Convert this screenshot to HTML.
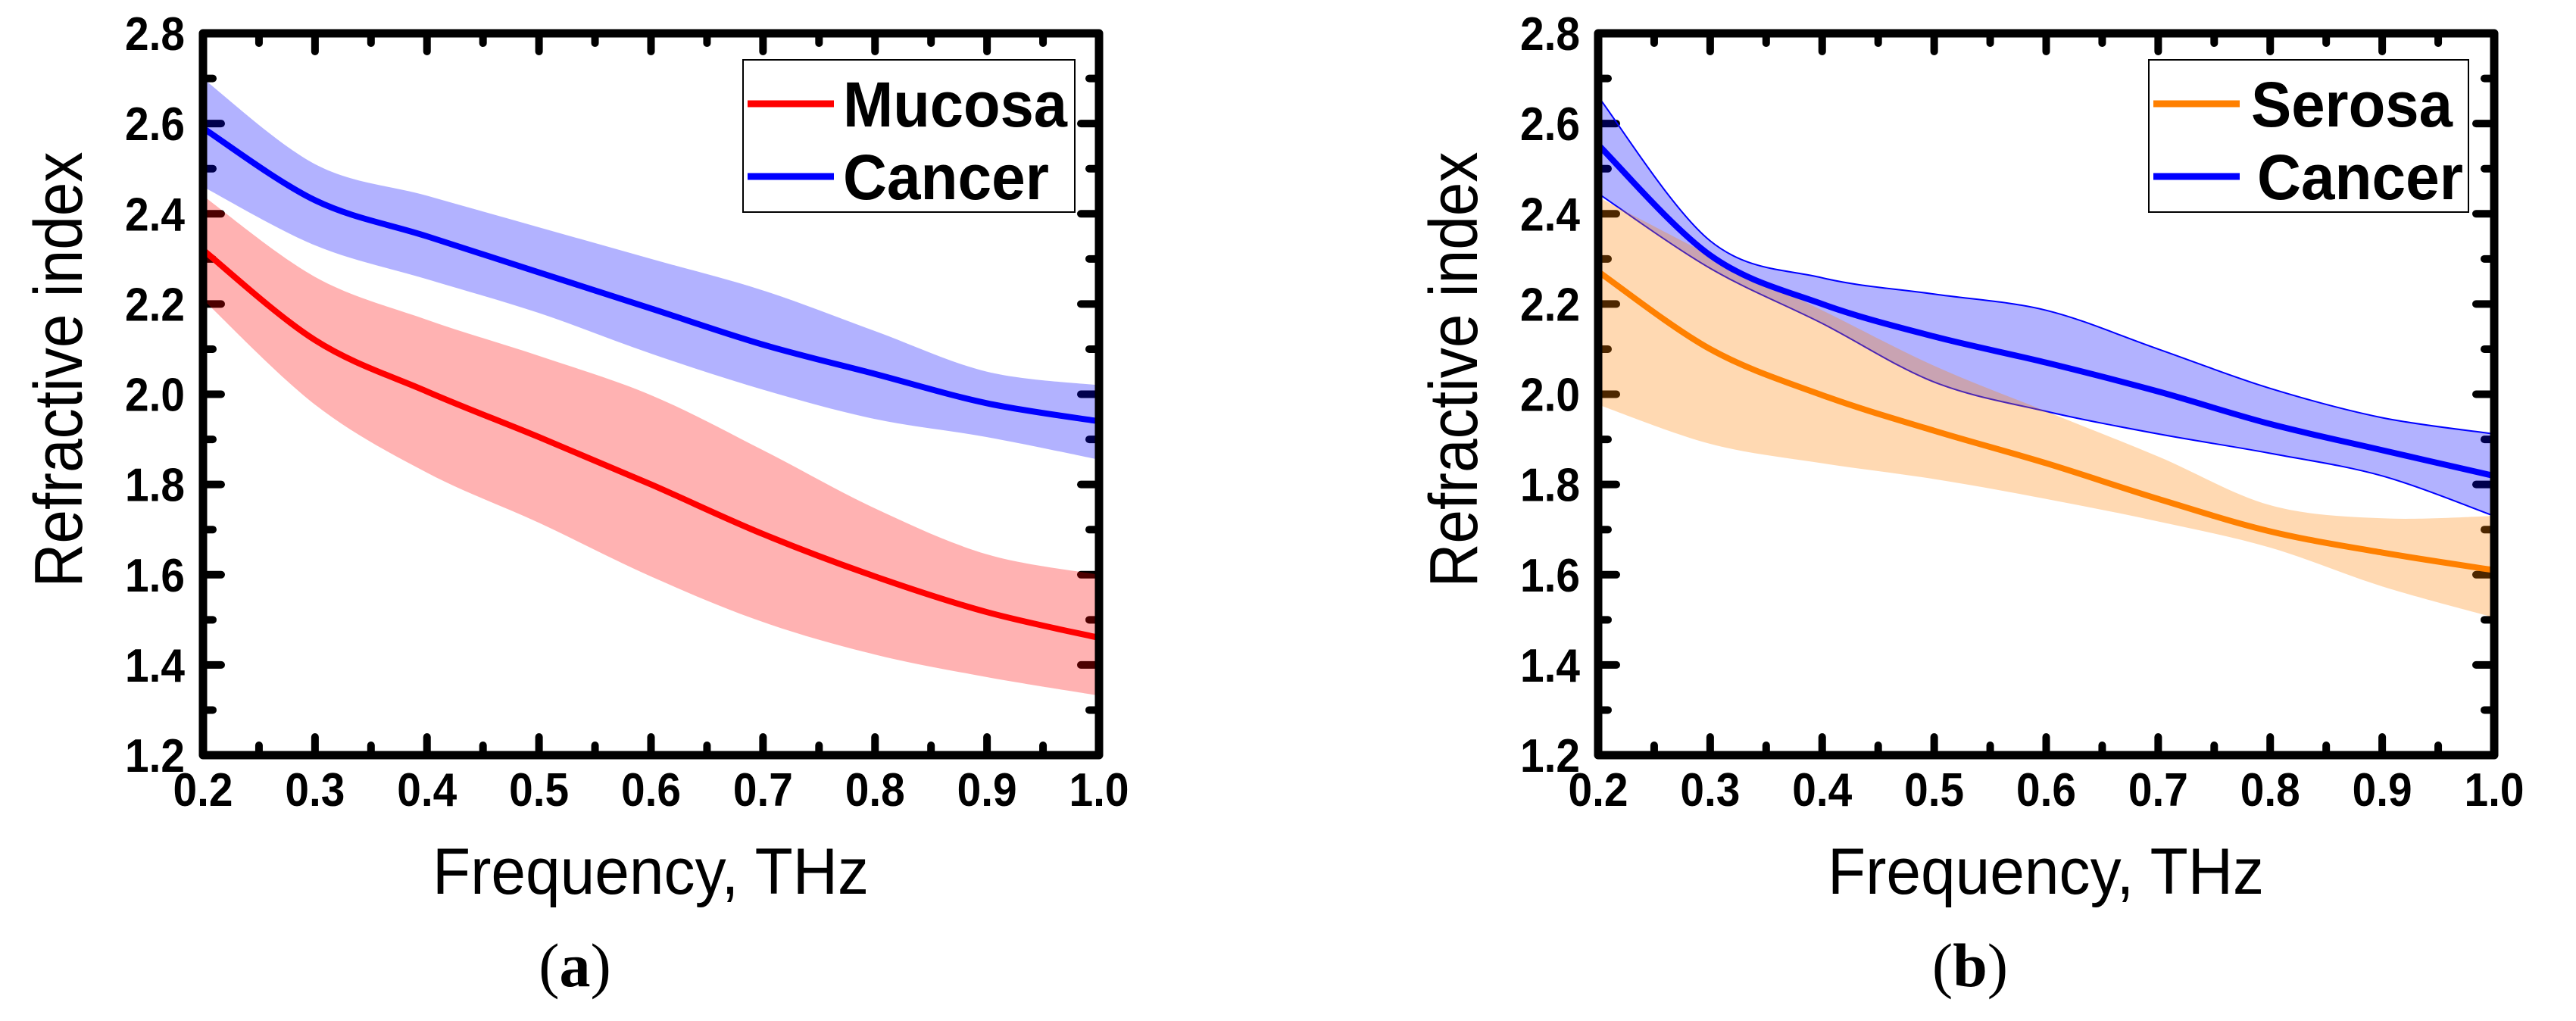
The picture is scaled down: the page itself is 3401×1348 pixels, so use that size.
<!DOCTYPE html>
<html><head><meta charset="utf-8"><style>
html,body{margin:0;padding:0;background:#fff;}
svg{display:block;}
</style></head><body>
<svg id="fig" width="3401" height="1348" viewBox="0 0 3401 1348" xmlns="http://www.w3.org/2000/svg"></svg>
<script>
const xs = [0.2,0.3,0.4,0.5,0.6,0.7,0.8,0.9,1.0];
const xTickLabels = ["0.2","0.3","0.4","0.5","0.6","0.7","0.8","0.9","1.0"];
const yTickLabels = ["1.2","1.4","1.6","1.8","2.0","2.2","2.4","2.6","2.8"];
// Panel (a)
const aCancerMean = [2.59,2.43,2.35,2.27,2.19,2.11,2.045,1.98,1.94];
const aCancerUpper = [2.70,2.51,2.44,2.37,2.30,2.23,2.14,2.05,2.02];
const aCancerLower = [2.46,2.33,2.255,2.18,2.09,2.01,1.945,1.905,1.855];
const aMucosaMean = [2.32,2.12,2.006,1.905,1.80,1.69,1.596,1.517,1.46];
const aMucosaUpper = [2.44,2.26,2.165,2.085,1.998,1.876,1.747,1.645,1.60];
const aMucosaLower = [2.21,1.977,1.826,1.715,1.596,1.495,1.423,1.373,1.332];
// Panel (b)
const bCancerMean = [2.553,2.308,2.20,2.128,2.07,2.006,1.934,1.876,1.819];
const bCancerUpper = [2.66,2.34,2.258,2.222,2.186,2.10,2.013,1.948,1.912];
const bCancerLower = [2.445,2.279,2.157,2.027,1.962,1.912,1.869,1.819,1.73];
const bSerosaMean = [2.272,2.10,1.998,1.919,1.847,1.768,1.696,1.649,1.61];
const bSerosaUpper = [2.437,2.308,2.186,2.063,1.962,1.862,1.754,1.725,1.73];
const bSerosaLower = [1.977,1.89,1.847,1.812,1.768,1.718,1.66,1.574,1.505];

const NS="http://www.w3.org/2000/svg";
const svg=document.getElementById('fig');
function mk(tag,attrs,parent){const e=document.createElementNS(NS,tag);for(const k in attrs)e.setAttribute(k,attrs[k]);(parent||svg).appendChild(e);return e;}

function spline(pts){
  let d='M'+pts[0][0].toFixed(1)+','+pts[0][1].toFixed(1);
  for(let i=0;i<pts.length-1;i++){
    const p0=pts[Math.max(0,i-1)],p1=pts[i],p2=pts[i+1],p3=pts[Math.min(pts.length-1,i+2)];
    const c1=[p1[0]+(p2[0]-p0[0])/6,p1[1]+(p2[1]-p0[1])/6];
    const c2=[p2[0]-(p3[0]-p1[0])/6,p2[1]-(p3[1]-p1[1])/6];
    d+=' C'+c1[0].toFixed(1)+','+c1[1].toFixed(1)+' '+c2[0].toFixed(1)+','+c2[1].toFixed(1)+' '+p2[0].toFixed(1)+','+p2[1].toFixed(1);
  }
  return d;
}

function panel(ox,label,series,legendX,legendW,legendTextX,names){
  const L=ox,R=ox+1183,T=44,B=997;
  const X=v=>L+(v-0.2)/0.8*(R-L);
  const Y=v=>B-(v-1.2)/1.6*(B-T);
  const g=mk('g',{});
  
  
  const tg=mk('g',{stroke:'#000','stroke-width':10,'stroke-linecap':'round'},g);
  
  
  for(let i=0;i<=16;i++){
    const v=0.2+i*0.05, x=X(v), len=(i%2===0)?24:13;
    mk('line',{x1:x,y1:B,x2:x,y2:B-len},tg);
    mk('line',{x1:x,y1:T,x2:x,y2:T+len},tg);
  }
  for(let i=0;i<=16;i++){
    const v=1.2+i*0.1, y=Y(v), len=(i%2===0)?24:13;
    mk('line',{x1:L,y1:y,x2:L+len,y2:y},tg);
    mk('line',{x1:R,y1:y,x2:R-len,y2:y},tg);
  }
  series.forEach(s=>{
    const up=xs.map((x,i)=>[X(x),Y(s.upper[i])]);
    const lo=xs.map((x,i)=>[X(x),Y(s.lower[i])]).reverse();
    const d=spline(up)+' L'+lo[0][0]+','+lo[0][1]+' '+spline(lo).slice(1)+' Z';
    const band=mk('path',{d:d,fill:s.color,'fill-opacity':0.3,stroke:s.edge?s.color:'none','stroke-width':2},g);
    
    
  });
  series.forEach(s=>{
    const m=xs.map((x,i)=>[X(x),Y(s.mean[i])]);
    const ln=mk('path',{d:spline(m),fill:'none',stroke:s.color,'stroke-width':8},g);
    
    
  });
  const fr=mk('rect',{x:L,y:T,width:R-L,height:B-T,fill:'none',stroke:'#000','stroke-width':11,'stroke-linejoin':'round'},g);
  
  
  xTickLabels.forEach((t,i)=>{
    const e=mk('text',{x:X(xs[i]),y:1064,'text-anchor':'middle','font-family':'Liberation Sans, sans-serif','font-weight':'bold','font-size':62,textLength:79,lengthAdjust:'spacingAndGlyphs'},g);
    e.textContent=t;
    
    
  });
  yTickLabels.forEach((t,i)=>{
    const e=mk('text',{x:L-24,y:Y(1.2+i*0.2)+22,'text-anchor':'end','font-family':'Liberation Sans, sans-serif','font-weight':'bold','font-size':62,textLength:79,lengthAdjust:'spacingAndGlyphs'},g);
    e.textContent=t;
    
    
  });
  const yt=mk('text',{x:0,y:0,transform:'translate('+(L-160)+',488) rotate(-90)','text-anchor':'middle','font-family':'Liberation Sans, sans-serif','font-size':90,textLength:575,lengthAdjust:'spacingAndGlyphs'},g);
  yt.textContent='Refractive index';
  
  
  const xt=mk('text',{x:L+591,y:1180,'text-anchor':'middle','font-family':'Liberation Sans, sans-serif','font-size':86,textLength:576,lengthAdjust:'spacingAndGlyphs'},g);
  xt.textContent='Frequency, THz';
  
  
  const pl=mk('text',{x:L+491,y:1302,'text-anchor':'middle','font-family':'Liberation Serif, serif','font-size':82},g);
  pl.innerHTML='(<tspan font-weight="bold">'+label+'</tspan>)';
  
  
  const lg=mk('g',{},g);
  
  
  mk('rect',{x:legendX,y:79,width:legendW,height:201,fill:'#fff',stroke:'#000','stroke-width':2},lg);
  [137,233].forEach((yy,i)=>{
    const s=names[i];
    const en=mk('g',{},lg);
    
    
    mk('line',{x1:legendX+6,y1:yy,x2:legendX+120,y2:yy,stroke:s.color,'stroke-width':9},en);
    const t=mk('text',{x:legendTextX[i],y:yy+30,'font-family':'Liberation Sans, sans-serif','font-weight':'bold','font-size':84,textLength:s.w,lengthAdjust:'spacingAndGlyphs'},en);
    t.textContent=s.label;
  });
}

panel(268,'a',[
  {name:'cancer',color:'#0000ff',mean:aCancerMean,upper:aCancerUpper,lower:aCancerLower},
  {name:'mucosa',color:'#ff0000',mean:aMucosaMean,upper:aMucosaUpper,lower:aMucosaLower}
],981,438,[1113,1113],[{label:'Mucosa',color:'#ff0000',w:296},{label:'Cancer',color:'#0000ff',w:272}]);

panel(2110,'b',[
  {name:'cancer',color:'#0000ff',edge:true,mean:bCancerMean,upper:bCancerUpper,lower:bCancerLower},
  {name:'serosa',color:'#ff8000',mean:bSerosaMean,upper:bSerosaUpper,lower:bSerosaLower}
],2837,422,[2972,2980],[{label:'Serosa',color:'#ff8000',w:266},{label:'Cancer',color:'#0000ff',w:272}]);
</script>
</body></html>
